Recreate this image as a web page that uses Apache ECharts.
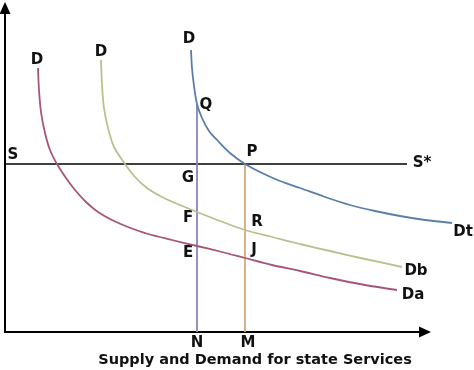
<!DOCTYPE html>
<html><head><meta charset="utf-8">
<script src="https://cdn.jsdelivr.net/npm/echarts@6/dist/echarts.min.js"></script>
<style>html,body{margin:0;padding:0;background:#fff}#c{width:474px;height:370px}</style>
</head><body><div id="c"></div>
<script>
// Quantity (x) and price (y) in chart units
const curveDa = [[33,264],[34,242],[36,220],[40,199],[45,182],[52,168],[61,154],[70,142],[81,130],[93,120],[107,112],[123,105],[143,98],[167,92],[192,86],[217,80],[240,74],[267,67],[295,61],[325,54],[360,47],[392,42]];
const curveDb = [[96,272],[97,247],[99,224],[103,204],[109,185],[120,168],[130,155],[142,144],[157,135],[175,127],[192,120],[215,111],[240,102],[267,95],[295,88],[325,81],[360,73],[397,65]];
const curveDt = [[186,282],[187,264],[189,246],[192,228],[197,214],[204,201],[213,191],[225,179],[240,168],[257,159],[275,151],[295,144],[320,135],[345,127],[370,121],[395,116],[420,112],[447,109]];
const supplyLine = [[1,168],[402,168]];
const lineN = [[192,228],[192,0]];
const lineM = [[240,168],[240,0]];
const titleText = 'Supply and Demand for state Services';

const chart = echarts.init(document.getElementById('c'), null, {renderer:'canvas'});
const F = 'DejaVu Sans, Verdana, sans-serif';
function lbl(t, x, y, size){
  return {type:'text', x:x, y:y, style:{text:t, fill:'#111', font:'bold '+(size||15)+'px '+F, textAlign:'center', textVerticalAlign:'middle'}};
}
function ln(name, data, color, w, sm){
  return {type:'line', name:name, data:data, symbol:'none', smooth:sm||0, clip:false,
    lineStyle:{color:color, width:w||1.8}, silent:true, animation:false};
}
chart.setOption({
  animation:false,
  grid:{left:5, right:0, top:8, bottom:38},
  xAxis:{type:'value', min:0, max:469, axisLine:{show:false},
    axisTick:{show:false}, axisLabel:{show:false}, splitLine:{show:false}},
  yAxis:{type:'value', min:0, max:324, axisLine:{show:true, onZero:false, symbol:['none','triangle'], symbolSize:[11,12], lineStyle:{color:'#000', width:2}},
    axisTick:{show:false}, axisLabel:{show:false}, splitLine:{show:false}},
  series:[
    {type:'line', data:supplyLine, symbol:'none', lineStyle:{color:'#000', width:1.7}, silent:true},
    ln('N', lineN, '#8a84b8', 1.8),
    ln('M', lineM, '#d6aa7c', 1.8),
    ln('Da', curveDa, '#a4567a', 1.8, 0.3),
    ln('Db', curveDb, '#b9c08e', 1.8, 0.3),
    ln('Dt', curveDt, '#5b7fa8', 1.8, 0.3)
  ],
  graphic:[
    {type:'line', shape:{x1:4, y1:332, x2:421, y2:332}, style:{stroke:'#000', lineWidth:2}},
    {type:'polygon', shape:{points:[[419,326.5],[431,332],[419,337.5]]}, style:{fill:'#000'}},
    lbl('D',37,60), lbl('D',101,52), lbl('D',189,39),
    lbl('Q',206,105), lbl('S',13,155), lbl('G',188,178), lbl('P',252,152), lbl('S*',422,163),
    lbl('F',188,218), lbl('E',188,253), lbl('R',257,222), lbl('J',254,250),
    lbl('N',197,343), lbl('M',248,343),
    lbl('Dt',463,232), lbl('Db',416,271), lbl('Da',413,295),
    lbl(titleText,255,360,14.5)
  ]
});
</script></body></html>
